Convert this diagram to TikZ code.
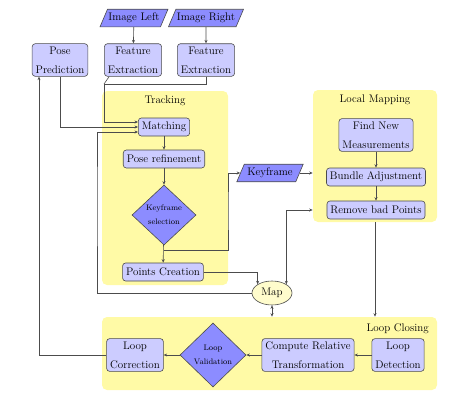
\documentclass[tikz,border=0pt]{standalone}
\usepackage{tkz-euclide}
\usetikzlibrary{positioning,shapes.geometric,arrows.meta}

\begin{document}
\begin{tikzpicture}[x=1pt, y=-1pt, line width=.6pt, >={Stealth[length=3.5pt,width=3pt]},
  every node/.style={font=\fontsize{11}{13}\selectfont},
  box/.style={draw=black!70, fill=blue!20, rounded corners=3pt, align=center,
    inner xsep=3.5pt, inner ysep=3pt, minimum height=18pt},
  io/.style={trapezium, trapezium left angle=67, trapezium right angle=113,
    draw=black!70, fill=blue!45, inner xsep=1pt, inner ysep=3.8pt},
  decision/.style={diamond, draw=black!70, fill=blue!45, font=\footnotesize,
    align=center, inner sep=0pt},
  panel/.style={fill=yellow!35, rounded corners=5pt},
  link/.style={draw=black!70}]
  \useasboundingbox (0,0) rectangle (474,405);

  \tkzDefPoints{134/18/iL, 206/18/iR, 60/60/pP, 133/60/fL, 206/60/fR,
    164/127/mA, 164/159/pR, 164/215/kS, 163/272/pC, 270/173/kF,
    376/135/fN, 376/177/bA, 376/210/rB, 272/293/mP,
    135/355/lC, 213/355/lV, 308/355/cR, 398/355/lD}

  % threads
  \node[panel, minimum width=126pt, minimum height=194pt] (track) at (165,188) {};
  \node[panel, minimum width=124pt, minimum height=132pt] (local) at (375,156) {};
  \node[panel, minimum width=335pt, minimum height=73pt] (closing) at (269.5,353.5) {};
  \node[below=2pt of track.north] {Tracking};
  \node[below=2pt of local.north] {Local Mapping};
  \node[below left=3pt and 5pt of closing.north east] {Loop Closing};

  \node[io] (imgL) at (iL) {Image Left};
  \node[io] (imgR) at (iR) {Image Right};
  \node[box] (pred) at (pP) {Pose\\[6pt]Prediction};
  \node[box] (featL) at (fL) {Feature\\[6pt]Extraction};
  \node[box] (featR) at (fR) {Feature\\[6pt]Extraction};

  \node[box] (match) at (mA) {Matching};
  \node[box] (refine) at (pR) {Pose refinement};
  \node[decision, minimum width=64pt, minimum height=60pt] (select) at (kS) {Keyframe\\[4.5pt]selection};
  \node[box] (create) at (pC) {Points Creation};
  \node[io, inner xsep=3pt] (keyframe) at (kF) {Keyframe};

  \node[box] (find) at (fN) {Find New\\[6pt]Measurements};
  \node[box] (bundle) at (bA) {Bundle Adjustment};
  \node[box] (remove) at (rB) {Remove bad Points};
  \node[ellipse, draw=black!70, fill=yellow!20, minimum width=40pt,
    minimum height=24pt, inner sep=1pt] (map) at (mP) {Map};

  \node[box] (correct) at (lC) {Loop\\[6pt]Correction};
  \node[decision, minimum width=66pt, minimum height=64pt] (valid) at (lV) {Loop\\[4.5pt]Validation};
  \node[box] (relative) at (cR) {Compute Relative\\[6pt]Transformation};
  \node[box] (detect) at (lD) {Loop\\[6pt]Detection};

  \coordinate (join) at (104,84);
  \coordinate (back) at (97,200);
  \coordinate (split) at (164,250);
  \coordinate (out) at (228,210);

  \draw[link, ->] (imgL) -- (featL);
  \draw[link, ->] (imgR) -- (featR);
  \draw[link] ([xshift=5pt]featL.south west) -- (join);
  \draw[link, ->] (featR.south) |- (join) |- ([yshift=5pt]match.west);
  \draw[link, ->] (pred.south) |- (match.west);
  \draw[link, ->] (map.west) -| (back) |- ([yshift=-5pt]match.west);
  \draw[link, ->] (match) -- (refine);
  \draw[link, ->] (refine) -- (select);
  \draw[link, ->] (select) -- (create);
  \draw[link, ->] (split) -| (out) |- (keyframe.west);
  \draw[link, ->] (keyframe.east) -- (keyframe.east -| local.west);
  \draw[link, ->] (create.east) -| (map.north west);
  \draw[link, <->] (map.north east) |- (remove -| local.west);
  \draw[link, ->] (find) -- (bundle);
  \draw[link, ->] (bundle) -- (remove);
  \draw[link, ->] (local.south) -- (local.south |- closing.north);
  \draw[link, <->] (map.south) -- (map.south |- closing.north);
  \draw[link, ->] (detect) -- (relative);
  \draw[link, ->] (relative) -- (valid);
  \draw[link, ->] (valid) -- (correct);
  \draw[link, ->] (correct.west) -| ([xshift=-21pt]pred.south);
\end{tikzpicture}
\end{document}
